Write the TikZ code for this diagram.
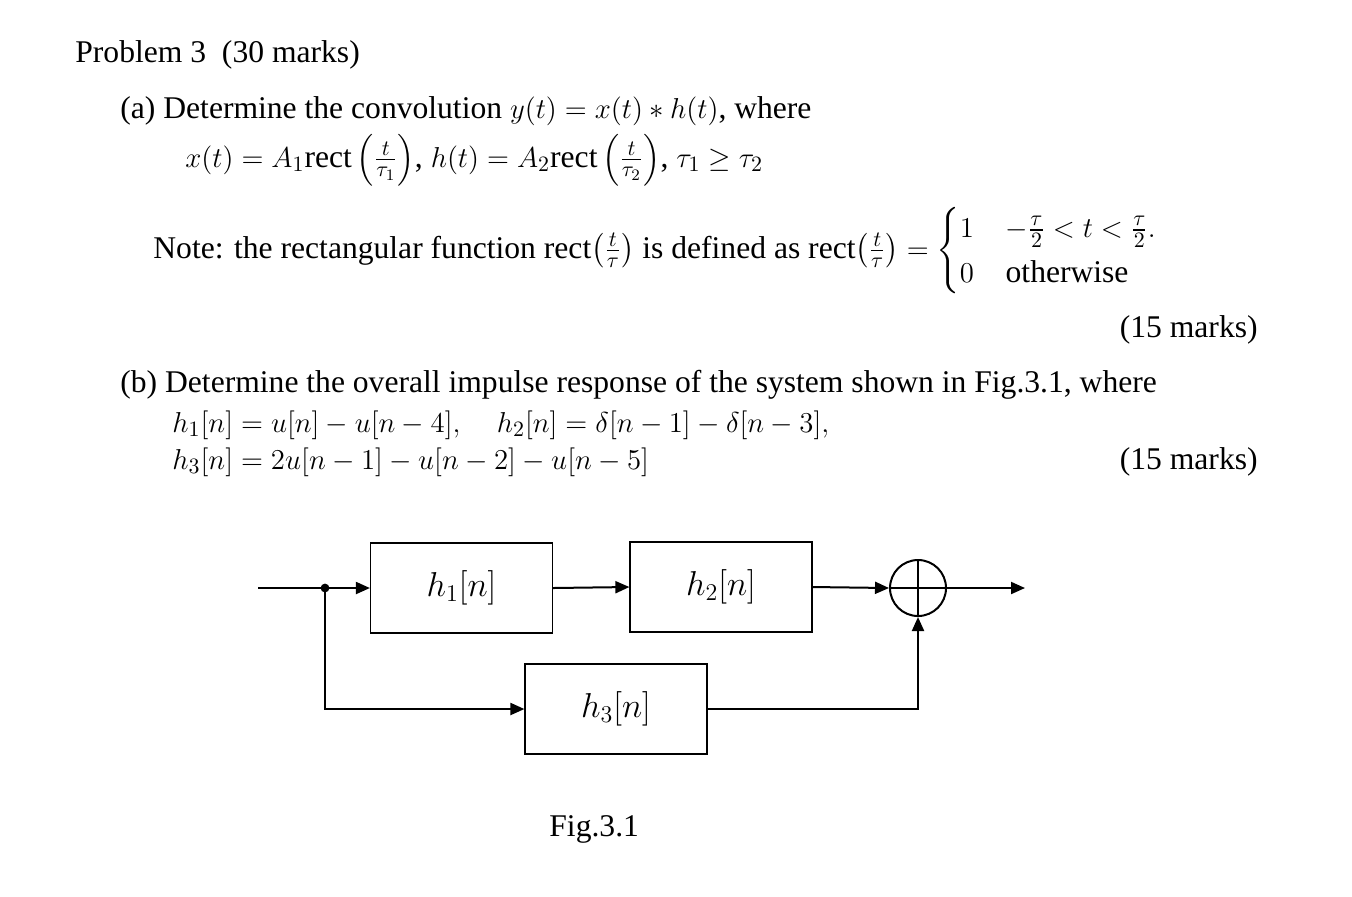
\documentclass[tikz,border=0pt]{standalone}
\usepackage{amsmath}
\usepackage{fontspec}
\setmainfont{Liberation Serif}
\usetikzlibrary{arrows.meta}
\begin{document}
\begin{tikzpicture}[x=0.5pt,y=-0.5pt,
  txt/.style={anchor=base west,inner sep=0pt,font=\fontsize{15.8}{19}\selectfont},
  blk/.style={draw,line width=0.6pt,minimum width=91pt,minimum height=45pt,inner sep=0pt,font=\fontsize{16.5}{20}\selectfont},
  conn/.style={line width=1pt,-{Triangle[length=7pt,width=6pt]}}]
\useasboundingbox (0,0) rectangle (1352,896);
\node[txt] (p) at (75,62) {Problem 3\ \ (30 marks)};
\node[txt] (a1) at (120,118) {(a)\ Determine the convolution $y(t)=x(t)*h(t)$, where};
\node[txt] (a2) at (185,167) {$x(t)=A_1\mathrm{rect}\left(\frac{t}{\tau_1}\right)$, $h(t)=A_2\mathrm{rect}\left(\frac{t}{\tau_2}\right)$, $\tau_1\geq\tau_2$};
\node[txt] (n) at (153,258) {Note: the rectangular function rect$\left(\frac{t}{\tau}\right)$ is defined as rect$\left(\frac{t}{\tau}\right)=\begin{cases}1 & -\frac{\tau}{2}<t<\frac{\tau}{2}.\\ 0 & \text{otherwise}\end{cases}$};
\node[txt,anchor=base east] (m1) at (1258,337) {(15 marks)};
\node[txt] (b1) at (120,392) {(b)\ Determine the overall impulse response of the system shown in Fig.3.1, where};
\node[txt] (b2) at (172,432) {$h_1[n]=u[n]-u[n-4],\quad h_2[n]=\delta[n-1]-\delta[n-3],$};
\node[txt] (b3) at (172,469) {$h_3[n]=2u[n-1]-u[n-2]-u[n-5]$};
\node[txt,anchor=base east] (m2) at (1258,469) {(15 marks)};
\node[blk] (h1) at (461.5,588) {$h_1[n]$};
\node[blk] (h2) at (721,587) {$h_2[n]$};
\node[blk] (h3) at (616,709) {$h_3[n]$};
\node[draw,circle,line width=1pt,minimum size=28pt,inner sep=0pt] (s) at (918,588) {};
\draw[line width=1pt] (s.north)--(s.south) (s.west)--(s.east);
\coordinate (in) at (258,588);
\coordinate (d) at (325,588);
\coordinate (out) at (1025,588);
\fill (d) circle (2.2pt);
\draw[line width=1pt] (in)--(d);
\draw[conn] (d)--(h1.west);
\draw[conn] (h1.east)--(h2.west);
\draw[conn] (h2.east)--(s.west);
\draw[conn] (s.east)--(out);
\draw[conn] (d)|-(h3.west);
\draw[conn] (h3.east)-|(s.south);
\node[txt] (f) at (549,836) {Fig.3.1};
\end{tikzpicture}
\end{document}
